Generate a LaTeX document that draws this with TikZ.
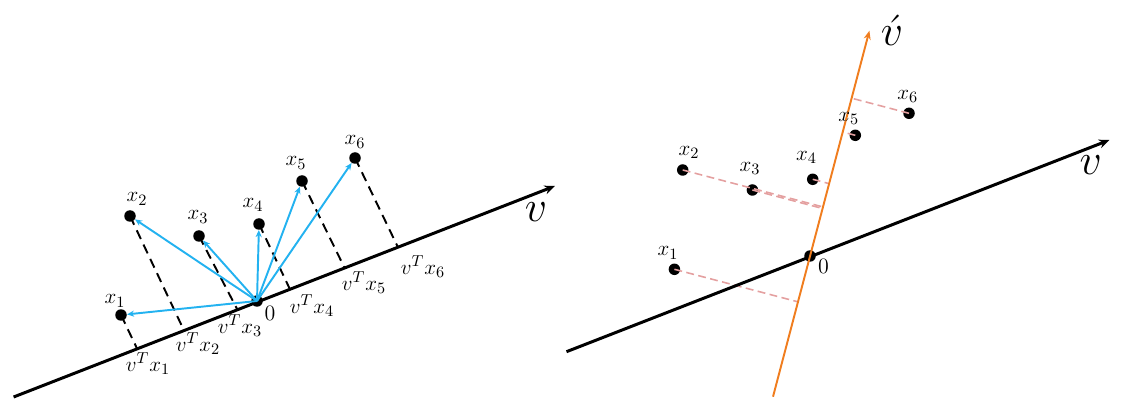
\documentclass[tikz,border=0pt]{standalone}
\usetikzlibrary{calc,arrows.meta}
\definecolor{vecblue}{RGB}{35,178,240}
\definecolor{axorange}{RGB}{240,125,30}
\definecolor{projpink}{RGB}{228,160,160}
\begin{document}
\begin{tikzpicture}[x=0.02cm,y=-0.02cm,
    pt/.style={circle,fill=black,inner sep=0pt,minimum size=0.23cm},
    lab/.style={inner sep=0pt,font=\fontsize{12.5}{14}\selectfont},
    biglab/.style={inner sep=0pt,font=\fontsize{30}{32}\selectfont},
    axis/.style={line width=1.7pt,-{Stealth[length=6pt,width=5pt]}},
    vec/.style={vecblue,line width=1.1pt,-{Stealth[length=4pt,width=3.5pt]}},
    proj/.style={line width=1.1pt,dash pattern=on 5.5pt off 3.5pt},
    projb/.style={projpink,line width=0.9pt,dash pattern=on 4.5pt off 2.5pt}]
  \useasboundingbox (0,0) rectangle (1124,411);
  % left panel
  \coordinate (a0) at (13.6,397);
  \coordinate (a1) at (555,186);
  \draw
    (121,315) node[pt] (p1){}
    (130,216) node[pt] (p2){}
    (199,236) node[pt] (p3){}
    (259,224) node[pt] (p4){}
    (302,181) node[pt] (p5){}
    (355,158) node[pt] (p6){};
  \draw
    (137,348.5) coordinate (f1)
    (184,330.5) coordinate (f2)
    (237.5,309.8) coordinate (f3)
    (290,289.4) coordinate (f4)
    (344.6,268) coordinate (f5)
    (398,247.4) coordinate (f6);
  \begin{scope}[proj]
    \draw (p1.center) to (f1);
    \draw (p2.center) to (f2);
    \draw (p3.center) to (f3);
    \draw (p4.center) to (f4);
    \draw (p5.center) to (f5);
    \draw (p6.center) to (f6);
  \end{scope}
  \draw[axis] (a0) -- (a1);
  \node[pt] (o) at (257,301) {};
  \begin{scope}[vec]
    \draw (o.center) to (p1);
    \draw (o.center) to (p2);
    \draw (o.center) to (p3);
    \draw (o.center) to (p4);
    \draw (o.center) to (p5);
    \draw (o.center) to (p6);
  \end{scope}
  \node[lab] (l1) at (115,301) {$x_1$};
  \node[lab] (l2) at (137,199) {$x_2$};
  \node[lab] (l3) at (198,217) {$x_3$};
  \node[lab] (l4) at (253,205) {$x_4$};
  \node[lab] (l5) at (296,163) {$x_5$};
  \node[lab] (l6) at (355,142) {$x_6$};
  \node[lab] (t1) at (148,364) {$v^T x_1$};
  \node[lab] (t2) at (198,344) {$v^T x_2$};
  \node[lab] (t3) at (240,326) {$v^T x_3$};
  \node[lab] (t4) at (312,306) {$v^T x_4$};
  \node[lab] (t5) at (364,283) {$v^T x_5$};
  \node[lab] (t6) at (423,267) {$v^T x_6$};
  \node[lab] (zero) at (270,313) {0};
  \node[biglab] (vname) at (536,212) {$v$};
  % right panel
  \coordinate (b0) at (566.5,351.7);
  \coordinate (b1) at (1109.5,140);
  \coordinate (c0) at (773,396.7);
  \coordinate (c1) at (869.4,30.7);
  \draw
    (674.4,269.3) node[pt] (q1){}
    (682.7,170) node[pt] (q2){}
    (752.4,190) node[pt] (q3){}
    (812.7,179.3) node[pt] (q4){}
    (855.3,135.3) node[pt] (q5){}
    (909,113.3) node[pt] (q6){};
  \coordinate (g1) at ($(c0)!(q1)!(c1)$);
  \coordinate (g2) at ($(c0)!(q2)!(c1)$);
  \coordinate (g3) at ($(c0)!(q3)!(c1)$);
  \coordinate (g4) at ($(c0)!(q4)!(c1)$);
  \coordinate (g5) at ($(c0)!(q5)!(c1)$);
  \coordinate (g6) at ($(c0)!(q6)!(c1)$);
  \begin{scope}[projb]
    \draw (q1.center) to (g1);
    \draw (q2.center) to (g2);
    \draw (q3.center) to (g3);
    \draw (q4.center) to (g4);
    \draw (q5.center) to (g5);
    \draw (q6.center) to (g6);
  \end{scope}
  \draw[axis] (b0) -- (b1);
  \node[pt] (o2) at (810,256) {};
  \draw[axorange,line width=1.1pt,-{Stealth[length=5pt,width=4pt]}] (c0) -- (c1);
  \node[lab] (k1) at (668,253) {$x_1$};
  \node[lab] (k2) at (689,152.7) {$x_2$};
  \node[lab] (k3) at (750,168.3) {$x_3$};
  \node[lab] (k4) at (806.6,157.7) {$x_4$};
  \node[lab] (k5) at (848.8,118.3) {$x_5$};
  \node[lab] (k6) at (907.7,96.7) {$x_6$};
  \node[lab] (zero2) at (823.5,266.7) {0};
  \node[biglab] (vname2) at (1090.7,165) {$v$};
  \node[biglab] (wname) at (892,30) {$\acute{v}$};
\end{tikzpicture}
\end{document}
